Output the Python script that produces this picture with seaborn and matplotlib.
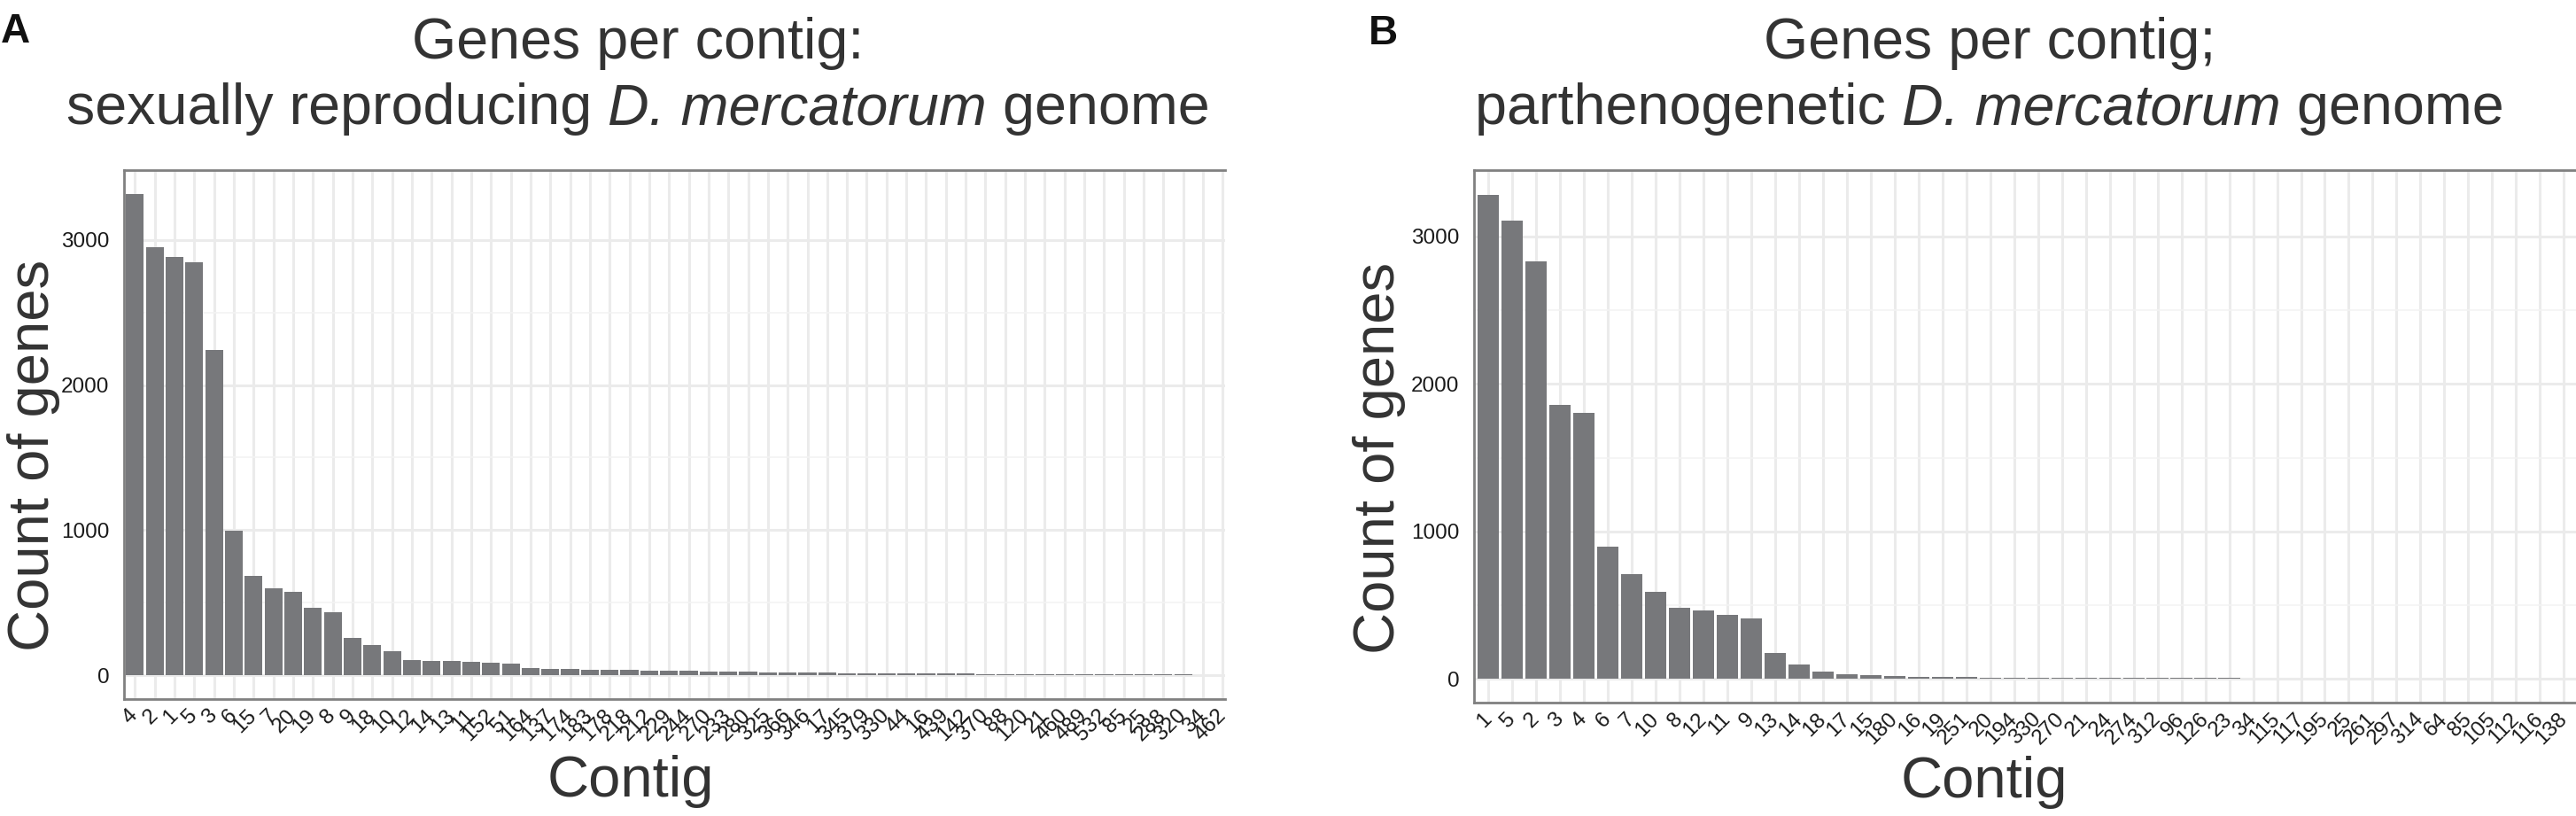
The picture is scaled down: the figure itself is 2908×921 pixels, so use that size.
import matplotlib
matplotlib.use("Agg")
import matplotlib.pyplot as plt
from matplotlib.ticker import FixedLocator
from matplotlib.transforms import Bbox, TransformedBbox
import seaborn as sns
import pandas as pd

# ---------------- data ----------------
contigs_sexual = ["4", "2", "1", "5", "3", "6", "15", "7", "20", "19", "8", "9", "18", "10",
                  "12", "14", "13", "11", "152", "51", "164", "137", "174", "183", "178", "218",
                  "212", "229", "244", "270", "233", "280", "325", "366", "346", "17", "345",
                  "379", "330", "44", "16", "439", "142", "370", "88", "120", "21", "460",
                  "489", "532", "85", "25", "288", "320", "34", "462"]
genes_sexual = [3313, 2952, 2885, 2848, 2243, 996, 685, 600, 573, 466, 438, 256, 212, 169,
                107, 102, 97, 94, 90, 82, 48, 45, 43, 41, 39, 37, 35, 33, 31, 29, 27, 25, 23,
                21, 19, 18, 17, 16, 15, 14, 13, 12, 11, 10, 9, 9, 8, 8, 7, 7, 6, 6, 5, 5, 4, 4]

contigs_parth = ["1", "5", "2", "3", "4", "6", "7", "10", "8", "12", "11", "9", "13", "14",
                 "18", "17", "15", "180", "16", "19", "251", "20", "194", "330", "270", "21",
                 "24", "274", "312", "96", "126", "23", "34", "115", "117", "195", "25", "261",
                 "297", "314", "64", "85", "105", "112", "116", "138"]
genes_parth = [3284, 3110, 2829, 1856, 1803, 899, 713, 590, 485, 465, 436, 411, 175, 98,
               52, 33, 28, 20, 17, 15, 12, 11, 10, 9, 9, 8, 8, 7, 7, 6, 6, 6, 5, 5, 5, 5,
               5, 4, 4, 4, 4, 4, 4, 4, 4, 4]

title_sexual_1 = "Genes per contig:"
title_sexual_2 = ["sexually reproducing ", "D. mercatorum", " genome"]
title_parth_1 = "Genes per contig;"
title_parth_2 = ["parthenogenetic ", "D. mercatorum", " genome"]

# ---------------- style ----------------
sns.set_theme(style="white")
plt.rcParams['font.family'] = ['Liberation Sans', 'DejaVu Sans']

BAR = "#77787b"
FRAME = "#808080"
GRID = "#EBEBEB"
TXT = "#333333"
TICKTXT = "#1a1a1a"

W, H = 2908, 921
fig = plt.figure(figsize=(W / 100, H / 100), dpi=100)


def px_axes(l, r, t, b):
    return fig.add_axes([l / W, 1 - b / H, (r - l) / W, (b - t) / H])


def draw(ax, cats, vals, xlim, ylim, ylab_xy, xlab_xy, clip_right=None):
    df = pd.DataFrame({"contig": cats, "genes": vals})
    sns.barplot(data=df, x="contig", y="genes", order=cats, color=BAR, saturation=1,
                width=0.9, errorbar=None, ax=ax, zorder=3, linewidth=0)
    ax.set_xlim(*xlim)
    ax.set_ylim(*ylim)
    ax.set_yticks([0, 1000, 2000, 3000])
    ax.yaxis.set_minor_locator(FixedLocator([500, 1500, 2500]))
    ax.set_axisbelow(True)
    ax.grid(which="major", color=GRID, lw=2.2, zorder=0)
    ax.grid(which="minor", axis="y", color="#F3F3F3", lw=1.2, zorder=0)
    ax.set_xticks(range(len(cats)))
    ax.set_xticklabels(cats, rotation=45, ha="right", va="center", rotation_mode="anchor")
    ax.tick_params(axis="both", which="major", length=7, width=2, color=FRAME,
                   labelsize=17.5, labelcolor=TICKTXT, pad=4)
    ax.tick_params(which="minor", length=0)
    ax.tick_params(axis="y", pad=5)
    for side in ["left", "top", "bottom"]:
        ax.spines[side].set_color(FRAME)
        ax.spines[side].set_linewidth(2)
        ax.spines[side].set_visible(True)
    ax.spines["right"].set_visible(False)
    ax.set_ylabel("Count of genes", fontsize=47, color=TXT)
    ax.yaxis.set_label_coords(*ylab_xy)
    ax.set_xlabel("Contig", fontsize=47, color=TXT)
    ax.xaxis.set_label_coords(*xlab_xy)
    if clip_right is not None:
        box = TransformedBbox(Bbox([[0, 0], [clip_right / W, 1]]), fig.transFigure)
        for t in ax.get_xticklabels():
            t.set_clip_box(box)
            t.set_clip_on(True)


axA = px_axes(140, 1383, 192, 789)
draw(axA, contigs_sexual, genes_sexual, (-0.55, -0.55 + (1383 - 140) / 22.33), (-163, 3480),
     (-0.058, 0.46), (0.46, -0.105), clip_right=1383)

axB = px_axes(1664, 2908, 192, 793)
draw(axB, contigs_parth, genes_parth, (-0.6, -0.6 + (2908 - 1664) / 26.98), (-160, 3450),
     (-0.062, 0.46), (0.463, -0.10))

# titles and panel letters
TS = 46.5
renderer = fig.canvas.get_renderer()


def mixed_line(xc_px, base_px, pieces):
    styles = ["normal", "italic", "normal"]
    texts = [fig.text(0, 1 - base_px / H, p, ha="left", va="baseline", fontsize=TS,
                      color=TXT, fontstyle=s) for p, s in zip(pieces, styles)]
    widths = [t.get_window_extent(renderer).width for t in texts]
    x = xc_px - sum(widths) / 2
    for t, w in zip(texts, widths):
        t.set_x(x / W)
        x += w


fig.text(720 / W, 1 - 66 / H, title_sexual_1, ha="center", va="baseline", fontsize=TS, color=TXT)
mixed_line(720, 140, title_sexual_2)
fig.text(2246 / W, 1 - 66 / H, title_parth_1, ha="center", va="baseline", fontsize=TS, color=TXT)
mixed_line(2246, 140, title_parth_2)
fig.text(1 / W, 1 - 14 / H, "A", ha="left", va="top", fontsize=33, fontweight="bold", color="#111111")
fig.text(1545 / W, 1 - 16 / H, "B", ha="left", va="top", fontsize=33, fontweight="bold", color="#111111")

fig.savefig("out.png", dpi=100, facecolor="white")
